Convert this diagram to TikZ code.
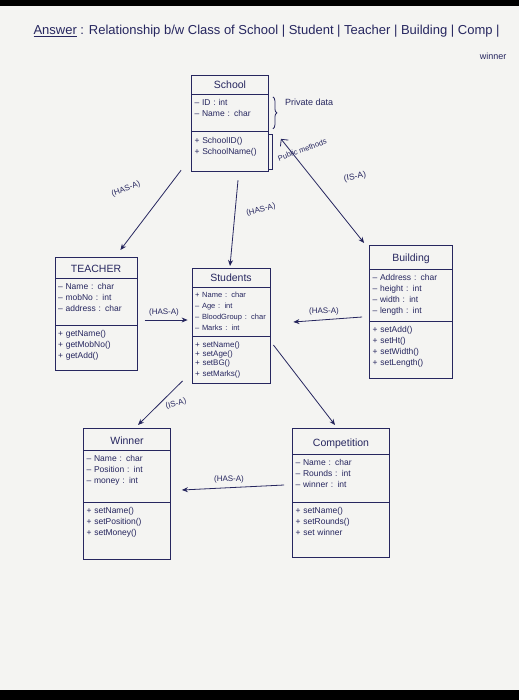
\documentclass[tikz,border=0pt]{standalone}
\usepackage{fontspec}
\setmainfont{Liberation Sans}
\usetikzlibrary{arrows.meta,positioning,shapes,decorations.pathreplacing}
\definecolor{ink}{RGB}{38,38,95}
\definecolor{paper}{RGB}{244,244,242}
\newcommand\gapdown[1]{\rule[-#1]{0pt}{#1}}

\begin{document}
\begin{tikzpicture}[x=1pt,y=-1pt,
  cls/.style={draw=ink,thick,rectangle split,rectangle split parts=3,anchor=north,
    text width=#1,inner xsep=3pt,inner ysep=5pt,align=left,text=ink,
    font=\fontsize{8.5}{11}\selectfont},
  rel/.style={draw=ink,thick,-{Stealth[length=6pt,width=5pt]}},
  lbl/.style={text=ink,font=\fontsize{8}{9}\selectfont,inner sep=1pt}]
\useasboundingbox (0,0) rectangle (519,700);
\fill[paper] (0,0) rectangle (519,700);
\fill[black] (0,0) rectangle (519,6);
\fill[black] (0,690) rectangle (519,700);

% heading
\node[anchor=west,text=ink,font=\fontsize{13}{15}\selectfont] (head) at (30,31)
  {\underline{Answer} : Relationship b/w Class of School | Student | Teacher | Building | Comp |};
\node[anchor=east,text=ink,font=\fontsize{9}{11}\selectfont] (head2) at (510,56) {winner};

% classes
\node[cls=71pt] (school) at (230,75)
  {\centering\fontsize{10.5}{12}\selectfont School\par
   \nodepart{two}– ID : int\\– Name : char\gapdown{10pt}
   \nodepart{three}+ SchoolID()\\+ SchoolName()\gapdown{12pt}};
\node[cls=76pt] (teacher) at (96,257)
  {\centering\fontsize{10.5}{12}\selectfont\rule{0pt}{10pt}TEACHER\par
   \nodepart{two}– Name : char\\– mobNo : int\\– address : char\gapdown{8pt}
   \nodepart{three}+ getName()\\+ getMobNo()\\+ getAdd()\gapdown{6pt}};
\node[cls=72pt] (students) at (231,268)
  {\centering\fontsize{10.5}{12}\selectfont Students\par
   \nodepart{two}\fontsize{7.5}{11}\selectfont + Name : char\\– Age : int\\– BloodGroup : char\\– Marks : int
   \nodepart{three}\fontsize{8}{9}\selectfont + setName()\\+ setAge()\\+ setBG()\\+ setMarks()};
\node[cls=77pt] (building) at (411,245)
  {\centering\fontsize{10.5}{12}\selectfont\rule{0pt}{11pt}Building\par
   \nodepart{two}– Address : char\\– height : int\\– width : int\\– length : int
   \nodepart{three}+ setAdd()\\+ setHt()\\+ setWidth()\\+ setLength()\gapdown{7pt}};
\node[cls=81pt] (winner) at (127,428)
  {\centering\fontsize{10.5}{12}\selectfont\rule{0pt}{11pt}Winner\par
   \nodepart{two}– Name : char\\– Position : int\\– money : int\gapdown{13pt}
   \nodepart{three}+ setName()\\+ setPosition()\\+ setMoney()\gapdown{18pt}};
\node[cls=91pt] (comp) at (341,428)
  {\centering\fontsize{10.5}{12}\selectfont\rule{0pt}{13pt}Competition\par
   \nodepart{two}– Name : char\\– Rounds : int\\– winner : int\gapdown{9pt}
   \nodepart{three}+ setName()\\+ setRounds()\\+ set winner\gapdown{16pt}};

% notes on School
\draw[ink,thick,decorate,decoration={brace,amplitude=4pt}]
  ([shift={(4,3)}]school.text split east) -- ([shift={(4,-3)}]school.two split east);
\node[lbl,anchor=west,font=\fontsize{9}{10}\selectfont] (priv) at (284,102) {Private data};
\draw[ink,thick] ([shift={(-1,3)}]school.two split east) -- ++(4,0) -- ([shift={(3,-3)}]school.south east) -- ++(-4,0);
\node[lbl,anchor=west,rotate=20,font=\fontsize{7.5}{8}\selectfont] (pub) at (277,159) {Public methods};

% relations
\draw[rel] ([shift={(-10,-2)}]school.south west) -- ([shift={(-17,-7)}]teacher.north east);
\node[lbl,rotate=20] (l1) at (126,189) {(HAS-A)};
\draw[rel] ([shift={(8,8)}]school.south) -- ([shift={(-1,-2)}]students.north);
\node[lbl,rotate=15] (l2) at (261,210) {(HAS-A)};
\draw[rel,{Straight Barb[length=5pt]}-{Stealth[length=6pt,width=5pt]}]
  ([shift={(12,7)}]school.two split east) -- ([shift={(-5,-2)}]building.north west);
\node[lbl,rotate=10,font=\fontsize{8.5}{9}\selectfont] (l3) at (355,177) {(IS-A)};
\draw[rel] ([shift={(-47,52)}]students.north west) -- ([shift={(-4,52)}]students.north west);
\node[lbl] (l4) at (164,312) {(HAS-A)};
\draw[rel] ([shift={(-7,72)}]building.north west) -- ([shift={(23,54)}]students.north east);
\node[lbl] (l5) at (324,311) {(HAS-A)};
\draw[rel] ([shift={(-9,-3)}]students.south west) -- ([shift={(11,-3)}]winner.north);
\node[lbl,rotate=15] (l6) at (176,404) {(IS-A)};
\draw[rel] ([shift={(3,77)}]students.north east) -- ([shift={(-6,-3)}]comp.north);
\draw[rel] ([shift={(-8,57)}]comp.north west) -- ([shift={(11,62)}]winner.north east);
\node[lbl] (l7) at (229,479) {(HAS-A)};
\end{tikzpicture}
\end{document}
